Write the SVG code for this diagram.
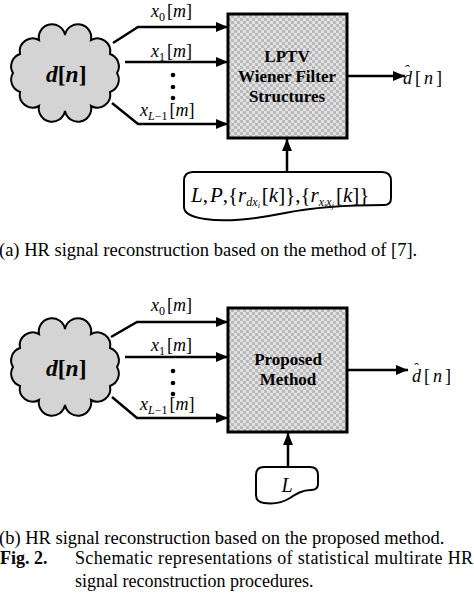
<svg xmlns="http://www.w3.org/2000/svg" width="474" height="605" viewBox="0 0 474 605">
<style>
.ln{fill:none;stroke:#000;stroke-width:2.5}
.cl{fill:#d4d4d4;stroke:#000;stroke-width:2}
.bx{fill:url(#chk);stroke:#000;stroke-width:3}
.pb{fill:#fff;stroke:#000;stroke-width:2}
.t{font-family:"Liberation Serif","Times New Roman",serif;fill:#000}
.i{font-style:italic}
.b{font-weight:bold}
.m{font-size:18px}
.cap{font-size:18.5px}
.fig{font-size:18px}
</style>
<defs>
<pattern id="chk" width="6" height="6" patternUnits="userSpaceOnUse">
<rect width="6" height="6" fill="#e2e2e2"/>
<rect width="3" height="3" fill="#b9b9b9"/>
<rect x="3" y="3" width="3" height="3" fill="#b9b9b9"/>
</pattern>
<marker id="ah" viewBox="0 0 12 10" refX="12" refY="5" markerWidth="12" markerHeight="10" orient="auto" markerUnits="userSpaceOnUse">
<path d="M0,0 L12,5 L0,10 Z" fill="#000"/>
</marker>
<path id="cloud" d="M117,73 A13,13 0 0 1 110,92 A13,13 0 0 1 91,106 A13,13 0 0 1 65,111 A13,13 0 0 1 39,106 A13,13 0 0 1 20,92 A13,13 0 0 1 13,73 A13,13 0 0 1 20,54 A13,13 0 0 1 39,40 A13,13 0 0 1 65,35 A13,13 0 0 1 91,40 A13,13 0 0 1 110,54 A13,13 0 0 1 117,73 Z"/>
</defs>
<rect width="474" height="605" fill="#fff"/>

<!-- (a) -->
<g id="a-cloud">
<use href="#cloud" class="cl"/>
<text class="t b" x="46" y="82" font-size="23.5"><tspan class="i">d</tspan>[<tspan class="i">n</tspan>]</text>
</g>
<g id="a-box">
<rect x="228" y="14" width="119" height="124" class="bx"/>
<text class="t b" font-size="17" text-anchor="middle"><tspan x="287" y="62">LPTV</tspan><tspan x="287" y="82">Wiener Filter</tspan><tspan x="287" y="102">Structures</tspan></text>
</g>
<g id="a-params">
<path class="pb" d="M193,172 H382 Q391,172 391,181 V198 Q391,205 384,205 C345,205 315,207 285,213 C250,220 225,222 205,219 Q184,216 184,207 V181 Q184,172 193,172 Z"/>
<text class="t i" x="191" y="202" font-size="21">L<tspan font-style="normal">,</tspan><tspan dx="2">P</tspan><tspan font-style="normal">,{</tspan>r<tspan font-size="12" dy="4">dx</tspan><tspan font-size="8" dy="2">i</tspan><tspan font-style="normal" dy="-6" dx="2">[</tspan>k<tspan font-style="normal">]},{</tspan>r<tspan font-size="12" dy="4">x</tspan><tspan font-size="8" dy="2">i</tspan><tspan font-size="12" dy="-2">x</tspan><tspan font-size="8" dy="2">j</tspan><tspan font-style="normal" dy="-6" dx="2">[</tspan>k<tspan font-style="normal">]}</tspan></text>
</g>
<g id="a-labels">
<text class="t m" x="151" y="17"><tspan class="i">x</tspan><tspan font-size="12" dy="4">0</tspan><tspan dy="-4" dx="2">[</tspan><tspan class="i">m</tspan>]</text>
<text class="t m" x="151" y="57"><tspan class="i">x</tspan><tspan font-size="12" dy="4">1</tspan><tspan dy="-4" dx="2">[</tspan><tspan class="i">m</tspan>]</text>
<text class="t m" x="140" y="116"><tspan class="i">x</tspan><tspan font-size="12" dy="4" class="i">L</tspan><tspan font-size="12">−1</tspan><tspan dy="-4" dx="2">[</tspan><tspan class="i">m</tspan>]</text>
<circle cx="173" cy="75" r="2.3"/><circle cx="173" cy="87" r="2.3"/><circle cx="173" cy="98" r="2.3"/>
<text class="t m" x="403" y="84"><tspan class="i">d</tspan><tspan dx="3">[</tspan><tspan dx="3" class="i">n</tspan><tspan dx="3">]</tspan></text>
<text class="t" x="405" y="75" font-size="15">ˆ</text>
</g>
<g id="a-connectors">
<polyline class="ln" points="113,43 138,27 228,27" marker-end="url(#ah)"/>
<line class="ln" x1="125" y1="62" x2="228" y2="62" marker-end="url(#ah)"/>
<polyline class="ln" points="112,103 138,124 228,124" marker-end="url(#ah)"/>
<line class="ln" x1="347" y1="76" x2="405" y2="76" marker-end="url(#ah)"/>
<line class="ln" x1="287" y1="172" x2="287" y2="139" marker-end="url(#ah)"/>
</g>
<text class="t cap" x="-1" y="256">(a) HR signal reconstruction based on the method of [7].</text>

<!-- (b) -->
<g id="b-cloud" transform="translate(0,294)">
<use href="#cloud" class="cl"/>
<text class="t b" x="46" y="82" font-size="23.5"><tspan class="i">d</tspan>[<tspan class="i">n</tspan>]</text>
</g>
<g id="b-box">
<rect x="228" y="308" width="119" height="124" class="bx"/>
<text class="t b" font-size="17" text-anchor="middle"><tspan x="288" y="365">Proposed</tspan><tspan x="288" y="385">Method</tspan></text>
</g>
<g id="b-param">
<path class="pb" d="M264,467 H310 Q318,467 318,475 V484 Q318,490 311,490 C302,490 296,494 290,498 C282,503 272,504 264,503 Q256,502 256,495 V475 Q256,467 264,467 Z"/>
<text class="t i" x="287" y="492" font-size="20" text-anchor="middle">L</text>
</g>
<g id="b-labels" transform="translate(0,294)">
<text class="t m" x="151" y="17"><tspan class="i">x</tspan><tspan font-size="12" dy="4">0</tspan><tspan dy="-4" dx="2">[</tspan><tspan class="i">m</tspan>]</text>
<text class="t m" x="151" y="57"><tspan class="i">x</tspan><tspan font-size="12" dy="4">1</tspan><tspan dy="-4" dx="2">[</tspan><tspan class="i">m</tspan>]</text>
<text class="t m" x="140" y="116"><tspan class="i">x</tspan><tspan font-size="12" dy="4" class="i">L</tspan><tspan font-size="12">−1</tspan><tspan dy="-4" dx="2">[</tspan><tspan class="i">m</tspan>]</text>
<circle cx="173" cy="77" r="2.3"/><circle cx="173" cy="89" r="2.3"/><circle cx="173" cy="100" r="2.3"/>
<text class="t m" x="412" y="88"><tspan class="i">d</tspan><tspan dx="3">[</tspan><tspan dx="3" class="i">n</tspan><tspan dx="3">]</tspan></text>
<text class="t" x="414" y="79" font-size="15">ˆ</text>
</g>
<g id="b-connectors">
<polyline class="ln" points="111,337 137,322 228,322" marker-end="url(#ah)"/>
<line class="ln" x1="125" y1="357" x2="228" y2="357" marker-end="url(#ah)"/>
<polyline class="ln" points="112,397 137,418 228,418" marker-end="url(#ah)"/>
<line class="ln" x1="347" y1="370" x2="408" y2="370" marker-end="url(#ah)"/>
<line class="ln" x1="288" y1="467" x2="288" y2="433" marker-end="url(#ah)"/>
</g>
<text class="t cap" x="-1" y="544">(b) HR signal reconstruction based on the proposed method.</text>
<text class="t fig" y="564"><tspan class="b" x="0">Fig. 2.</tspan><tspan x="75" textLength="398" lengthAdjust="spacing">Schematic representations of statistical multirate HR</tspan></text>
<text class="t fig" x="75" y="587">signal reconstruction procedures.</text>
</svg>
